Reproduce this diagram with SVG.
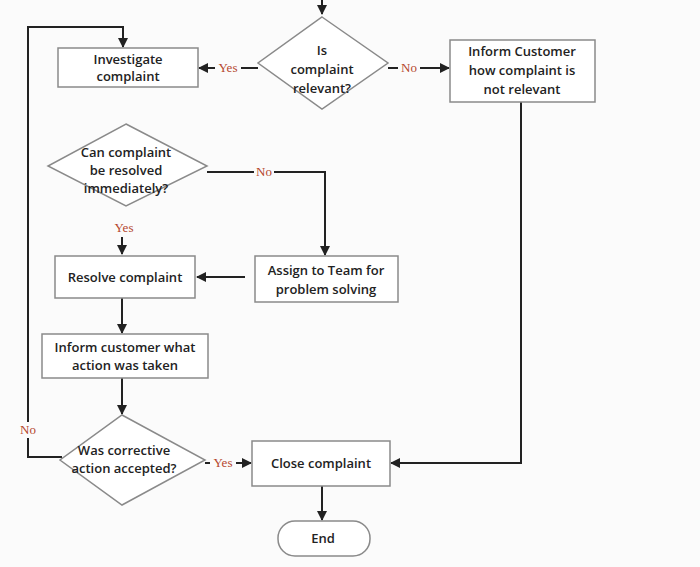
<svg xmlns="http://www.w3.org/2000/svg" width="700" height="567" viewBox="0 0 700 567">
<style>
.n{fill:#fff;stroke:#8a8a8a;stroke-width:1.5}
.t{font-family:"Open Sans",sans-serif;font-size:13px;font-weight:600;fill:#222;text-anchor:middle}
.l{font-family:"Liberation Serif",serif;font-size:13px;fill:#b5472e;text-anchor:middle}
.c{fill:none;stroke:#222;stroke-width:2}
</style>
<defs><marker id="a" markerWidth="10" markerHeight="10" refX="9" refY="5" orient="auto" markerUnits="userSpaceOnUse"><path d="M0,0L10,5L0,10z" fill="#222"/></marker></defs>
<rect width="700" height="567" fill="#fbfbfb"/>
<g id="connectors">
<path class="c" d="M322,0V14" marker-end="url(#a)"/>
<path class="c" d="M258,68H199" marker-end="url(#a)"/>
<path class="c" d="M388,68H449" marker-end="url(#a)"/>
<path class="c" d="M207,172H325V255" marker-end="url(#a)"/>
<path class="c" d="M122,237V254" marker-end="url(#a)"/>
<path class="c" d="M245,277H197" marker-end="url(#a)"/>
<path class="c" d="M122,298V333" marker-end="url(#a)"/>
<path class="c" d="M122,378V414" marker-end="url(#a)"/>
<path class="c" d="M205,463H251" marker-end="url(#a)"/>
<path class="c" d="M521,102V463H391" marker-end="url(#a)"/>
<path class="c" d="M322,486V520" marker-end="url(#a)"/>
<path class="c" d="M62,457H28V27H123V47" marker-end="url(#a)"/>
<rect x="215" y="61" width="26" height="14" fill="#fbfbfb"/><text class="l" x="228" y="72">Yes</text>
<rect x="398" y="61" width="22" height="14" fill="#fbfbfb"/><text class="l" x="409" y="72">No</text>
<rect x="254" y="165" width="20" height="14" fill="#fbfbfb"/><text class="l" x="264" y="176">No</text>
<rect x="108" y="218" width="28" height="16" fill="#fbfbfb"/><text class="l" x="124" y="232">Yes</text>
<rect x="16" y="422" width="24" height="16" fill="#fbfbfb"/><text class="l" x="28" y="434">No</text>
<rect x="210" y="456" width="26" height="14" fill="#fbfbfb"/><text class="l" x="223" y="467">Yes</text>
</g>
<g id="relevant"><polygon class="n" points="322,17 388,63 322,109 258,63"/><text class="t" x="322" y="55">Is</text><text class="t" x="322" y="74">complaint</text><text class="t" x="322" y="93">relevant?</text></g>
<g id="investigate"><rect class="n" x="58" y="48" width="140" height="39"/><text class="t" x="128" y="64">Investigate</text><text class="t" x="128" y="81">complaint</text></g>
<g id="inform-not"><rect class="n" x="450" y="40" width="145" height="62"/><text class="t" x="522" y="56">Inform Customer</text><text class="t" x="522" y="75">how complaint is</text><text class="t" x="522" y="94">not relevant</text></g>
<g id="can"><polygon class="n" points="126,124 207,166 126,206 48,166"/><text class="t" x="126" y="157">Can complaint</text><text class="t" x="126" y="175">be resolved</text><text class="t" x="126" y="193">immediately?</text></g>
<g id="resolve"><rect class="n" x="55" y="256" width="140" height="42"/><text class="t" x="125" y="282">Resolve complaint</text></g>
<g id="assign"><rect class="n" x="255" y="256" width="143" height="46"/><text class="t" x="326" y="275">Assign to Team for</text><text class="t" x="326" y="294">problem solving</text></g>
<g id="inform-action"><rect class="n" x="42" y="334" width="166" height="44"/><text class="t" x="125" y="352">Inform customer what</text><text class="t" x="125" y="370">action was taken</text></g>
<g id="accepted"><polygon class="n" points="122,415 205,460 122,505 60,460"/><text class="t" x="124" y="455">Was corrective</text><text class="t" x="124" y="473">action accepted?</text></g>
<g id="close"><rect class="n" x="252" y="441" width="138" height="45"/><text class="t" x="321" y="468">Close complaint</text></g>
<g id="end"><rect class="n" x="278" y="521" width="92" height="35" rx="17"/><text class="t" x="323" y="543">End</text></g>
</svg>
